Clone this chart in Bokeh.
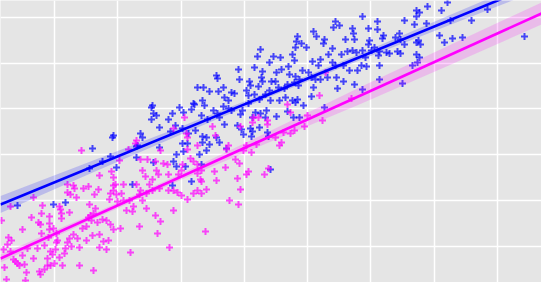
import numpy as np
from bokeh.plotting import figure
from bokeh.models import Range1d, Grid, FixedTicker, ColumnDataSource
from bokeh.embed import file_html
from bokeh.resources import INLINE

# ---- data (arbitrary units; no axis labels are shown) ----
blue_x = [151, 153, 156, 151, 172, 179, 168, 159, 175, 170, 140, 142, 112, 113,
          335, 339, 333, 352, 313, 316, 297, 324, 296, 301, 295, 306, 323, 345, 353, 354,
          352, 347, 356, 332, 341, 328, 260, 257, 273, 280, 269, 292, 294, 312, 320, 318,
          332, 335, 343, 349, 357, 254, 262, 238, 239, 216, 217, 276, 281, 288, 289, 295,
          302, 308, 311, 315, 320, 327, 336, 343, 354, 337, 261, 262, 249, 250, 258, 269,
          271, 275, 278, 284, 287, 294, 299, 298, 313, 197, 203, 209, 223, 218, 231, 234,
          246, 248, 254, 265, 202, 194, 204, 191, 183, 224, 228, 248, 259, 270, 279, 285,
          292, 295, 297, 303, 311, 324, 287, 293, 299, 276, 266, 265, 260, 255, 242, 240,
          231, 228, 223, 217, 213, 201, 207, 219, 224, 237, 241, 250, 252, 243, 251, 267,
          206, 195, 202, 188, 216, 268, 259, 252,
          362, 368, 377, 377, 404, 416, 419, 416, 427, 414, 426, 441, 447, 487, 471, 450,
          439, 444, 452, 462, 524, 399, 395, 383, 382, 369, 368, 374, 404, 400, 416, 420,
          418, 386, 389, 397, 400, 379, 371, 362, 365, 378, 361, 366, 379, 416, 419, 417,
          412, 379, 402, 362,
          92, 110, 102, 89, 116, 136, 137, 159, 176, 153, 173, 176, 132, 172, 17, 53, 65,
          182, 187, 202, 209, 219, 206, 183, 199, 201, 185, 191, 226, 270,
          152, 193, 182, 136]
blue_y = [175, 169, 167, 163, 169, 175, 163, 155, 157, 151, 149, 145, 145, 147,
          261, 257, 255, 254, 251, 246, 246, 243, 241, 239, 235, 235, 239, 243, 249, 243,
          232, 231, 230, 234, 228, 228, 233, 226, 226, 225, 220, 228, 222, 221, 223, 217,
          220, 217, 217, 212, 212, 215, 211, 213, 203, 207, 204, 210, 213, 216, 208, 206,
          212, 210, 205, 203, 203, 205, 205, 201, 198, 194, 205, 201, 201, 197, 196, 192,
          201, 201, 195, 194, 198, 200, 203, 197, 195, 195, 195, 191, 195, 191, 190, 189,
          192, 187, 188, 188, 182, 178, 177, 173, 170, 185, 182, 179, 183, 182, 182, 185,
          182, 180, 183, 177, 186, 175, 171, 165, 165, 166, 172, 165, 169, 170, 172, 168,
          172, 174, 176, 169, 172, 167, 163, 165, 158, 157, 153, 154, 151, 148, 146, 150,
          145, 152, 146, 149, 145, 146, 155, 165,
          266, 254, 261, 253, 262, 272, 270, 266, 276, 258, 259, 272, 280, 273, 262, 262,
          247, 240, 244, 245, 246, 249, 245, 247, 244, 242, 238, 235, 238, 243, 240, 238,
          242, 230, 229, 231, 229, 231, 232, 232, 225, 227, 217, 216, 217, 228, 225, 220,
          217, 203, 199, 193,
          134, 126, 121, 114, 115, 125, 137, 135, 128, 120, 121, 116, 98, 97, 77, 78, 80,
          139, 139, 140, 138, 140, 132, 131, 128, 118, 116, 101, 134, 113,
          177, 179, 154, 136]

pink_x = [184, 186, 187, 212, 215, 240, 253, 258, 252, 267, 267, 287, 290, 319, 307, 304,
          322, 351, 325, 275, 283, 290, 294, 173, 136,
          81, 128, 135, 160, 99, 111, 113, 119, 140, 147, 155, 163, 167, 156, 158, 168,
          142, 145, 152, 149, 136, 140, 146, 152, 159, 168, 173, 177, 178, 113, 115, 113,
          110, 123, 116, 121, 109, 117, 123, 129, 133, 132, 126, 139, 142, 146, 155, 160,
          157, 173, 139, 120, 113, 110, 106, 102, 97, 91, 90, 88, 93, 95, 89, 94, 98, 88,
          74, 67, 73, 67, 70, 76, 83, 42, 59, 60, 61, 61, 69, 41, 38, 40, 31, 22, 1, 49,
          56, 73, 69, 67, 57, 56, 77, 82, 86, 92, 99, 103, 108, 99, 106, 86, 79, 71, 65,
          55, 50, 52, 47, 59, 64, 8, 11, 7, 3, 10, 13, 15, 17, 24, 19, 4, 33, 37, 44, 27,
          47, 50, 54, 62, 44, 39, 40, 26, 6, 79, 93, 130, 169,
          182, 187, 193, 197, 197, 201, 201, 200, 197, 193, 201, 206, 181, 187, 214, 216,
          225, 229, 237, 240, 238, 235, 239, 246, 248, 264, 268, 205, 228, 226, 243, 251,
          246, 256, 279, 281, 197, 181, 190,
          41, 48, 22, 25, 33, 10, 49, 49, 53]
pink_y = [165, 149, 145, 156, 147, 156, 165, 165, 160, 162, 158, 178, 170, 187, 167, 156,
          162, 184, 210, 145, 150, 149, 152, 154, 142,
          132, 133, 139, 132, 107, 111, 105, 122, 123, 123, 121, 119, 118, 112, 108, 108,
          112, 106, 103, 98, 98, 92, 89, 92, 94, 92, 92, 90, 108, 97, 98, 92,
          89, 98, 88, 89, 83, 81, 82, 82, 76, 71, 72, 88, 82, 74, 67, 61,
          49, 72, 56, 54, 53, 58, 62, 63, 60, 62, 67, 65, 69, 74, 78, 88, 93, 96,
          94, 98, 97, 90, 88, 85, 94, 77, 76, 73, 69, 64, 70, 69, 60, 58, 65, 53, 62, 53,
          49, 48, 44, 40, 42, 40, 44, 54, 56, 47, 48, 41, 42, 35, 33, 42, 35, 36, 34,
          33, 31, 28, 24, 25, 29, 45, 42, 38, 33, 31, 23, 21, 19, 18, 17, 15, 24, 34, 37, 34,
          17, 17, 19, 17, 13, 11, 8, 10, 3, 17, 12, 30, 35,
          118, 133, 121, 118, 109, 112, 101, 103, 92, 89, 89, 93, 87, 83, 111, 102,
          115, 82, 104, 93, 78, 123, 119, 108, 111, 108, 114, 51, 137, 133, 132, 130,
          137, 138, 137, 140, 137, 112, 124,
          49, 45, 27, 2, 85, 76, 66, 59, 54]

# fitted lines (read at the plot edges) and half-widths of their confidence bands
fit_x = [0, 541]
blue_fit_y = [78, 300]
pink_fit_y = [24, 269]
band_x = [0, 90, 180, 270, 360, 450, 541]
blue_band_half = [8.5, 6.0, 4.0, 2.8, 3.2, 5.0, 6.5]
pink_band_half = [4.0, 2.8, 3.0, 5.5, 8.5, 10.0, 11.0]

# grid positions
x_grid = [54, 117, 181, 244, 307, 370, 434, 497]
y_grid = [36, 82, 128, 174, 219, 265]

BLUE = "#0000ff"
PINK = "#ff00ff"

p = figure(width=541, height=282, output_backend="svg", toolbar_location=None,
           x_range=Range1d(0, 541), y_range=Range1d(0, 282),
           x_axis_location=None, y_axis_location=None,
           background_fill_color="#e5e5e5", border_fill_color="#e5e5e5",
           min_border=0, outline_line_color=None)
p.grid.visible = False
p.add_layout(Grid(dimension=0, ticker=FixedTicker(ticks=x_grid),
                  grid_line_color="white", grid_line_width=1.5), "center")
p.add_layout(Grid(dimension=1, ticker=FixedTicker(ticks=y_grid),
                  grid_line_color="white", grid_line_width=1.5), "center")

p.scatter(blue_x, blue_y, marker="cross", size=7, line_width=2,
          line_color=BLUE, line_alpha=0.7)
p.scatter(pink_x, pink_y, marker="cross", size=7, line_width=2,
          line_color=PINK, line_alpha=0.7)

bx = np.array(band_x, dtype=float)
for fy, half, col in ((blue_fit_y, blue_band_half, BLUE), (pink_fit_y, pink_band_half, PINK)):
    center = np.interp(bx, fit_x, fy)
    h = np.array(half)
    src = ColumnDataSource(dict(x=bx, lo=center - h, hi=center + h))
    p.varea(x="x", y1="lo", y2="hi", source=src, fill_color=col, fill_alpha=0.18)
    p.line(fit_x, fy, line_color=col, line_width=2.6)

open("out.html", "w").write(file_html(p, INLINE))
